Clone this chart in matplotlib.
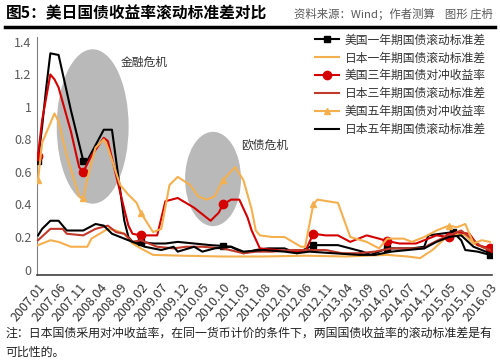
import matplotlib
matplotlib.use("Agg")
import matplotlib.pyplot as plt
from matplotlib.patches import Ellipse
from matplotlib.lines import Line2D

plt.rcParams['font.family'] = ['Noto Sans CJK SC', 'DejaVu Sans']

# month index counted from 2007.01
tick_months = list(range(0, 111, 5))
tick_labels = ['2007.01', '2007.06', '2007.11', '2008.04', '2008.09', '2009.02',
               '2009.07', '2009.12', '2010.05', '2010.10', '2011.03', '2011.08',
               '2012.01', '2012.06', '2012.11', '2013.04', '2013.09', '2014.02',
               '2014.07', '2014.12', '2015.05', '2015.10', '2016.03']

# 美国一年期国债滚动标准差
us1y_m = [0, 1, 2, 3, 5, 8, 11, 12, 16, 18, 21, 22, 23, 25, 28, 31, 34, 38, 42, 45, 47,
          50, 53, 56, 60, 63, 67, 70, 73, 76, 79, 81, 83, 85, 88, 91, 94, 95, 98, 101,
          103, 104, 107, 110]
us1y_v = [0.67, 0.88, 1.12, 1.33, 1.32, 0.98, 0.67, 0.67, 0.86, 0.86, 0.30, 0.20, 0.17,
          0.17, 0.16, 0.16, 0.17, 0.16, 0.15, 0.145, 0.14, 0.10, 0.12, 0.13, 0.13, 0.10,
          0.15, 0.15, 0.15, 0.13, 0.11, 0.09, 0.11, 0.13, 0.13, 0.13, 0.14, 0.21, 0.22,
          0.23, 0.18, 0.12, 0.11, 0.09]

# 日本一年期国债滚动标准差
jp1y_m = [0, 3, 5, 8, 12, 13, 17, 19, 21, 23, 25, 28, 35, 45, 55, 65, 75, 85, 90, 93,
          96, 99, 102, 104, 106, 110]
jp1y_v = [0.15, 0.18, 0.17, 0.14, 0.14, 0.19, 0.25, 0.24, 0.22, 0.16, 0.13, 0.09, 0.085,
          0.08, 0.08, 0.085, 0.08, 0.09, 0.08, 0.07, 0.12, 0.19, 0.22, 0.21, 0.16, 0.12]

# 美国三年期国债对冲收益率
us3y_m = [0, 1, 3, 4, 5, 8, 10, 11, 13, 16, 17, 19, 21, 22, 23, 25, 27, 29, 31, 34, 36,
          38, 41, 42, 44, 45, 47, 49, 51, 52, 54, 58, 62, 65, 67, 70, 73, 76, 80, 83,
          85, 88, 92, 95, 97, 100, 102, 105, 107, 110]
us3y_v = [0.70, 0.92, 1.20, 1.17, 1.12, 0.85, 0.63, 0.60, 0.70, 0.81, 0.79, 0.58, 0.37,
          0.27, 0.22, 0.21, 0.21, 0.21, 0.42, 0.44, 0.41, 0.38, 0.32, 0.30, 0.35, 0.40,
          0.43, 0.43, 0.32, 0.24, 0.13, 0.12, 0.11, 0.11, 0.22, 0.21, 0.21, 0.17, 0.21,
          0.19, 0.175, 0.16, 0.16, 0.19, 0.21, 0.20, 0.23, 0.22, 0.15, 0.13]

# 日本三年期国债滚动标准差
jp3y_m = [0, 3, 6, 7, 11, 14, 17, 19, 21, 23, 25, 29, 33, 36, 40, 45, 50, 53, 57, 62,
          66, 70, 74, 78, 82, 86, 90, 94, 95, 99, 103, 105, 108, 110]
jp3y_v = [0.18, 0.25, 0.25, 0.22, 0.21, 0.25, 0.27, 0.23, 0.22, 0.17, 0.18, 0.14, 0.13,
          0.14, 0.14, 0.13, 0.10, 0.11, 0.11, 0.12, 0.12, 0.12, 0.10, 0.10, 0.11, 0.13,
          0.13, 0.13, 0.15, 0.20, 0.24, 0.20, 0.14, 0.12]

# 美国五年期国债对冲收益率
us5y_m = [0, 1, 4, 5, 7, 10, 11, 12, 14, 16, 17, 20, 22, 24, 25, 28, 30, 32, 34, 37, 39,
          41, 43, 45, 48, 50, 52, 53, 54, 57, 60, 64, 65, 67, 68, 73, 76, 80, 83, 85,
          89, 91, 94, 97, 100, 102, 104, 106, 108, 110]
us5y_v = [0.55, 0.78, 0.96, 0.91, 0.70, 0.45, 0.44, 0.56, 0.75, 0.80, 0.75, 0.52, 0.46,
          0.41, 0.35, 0.23, 0.25, 0.52, 0.57, 0.52, 0.45, 0.43, 0.45, 0.55, 0.63, 0.55,
          0.37, 0.24, 0.21, 0.20, 0.20, 0.14, 0.14, 0.40, 0.43, 0.41, 0.20, 0.17, 0.13,
          0.19, 0.19, 0.17, 0.20, 0.24, 0.27, 0.26, 0.28, 0.16, 0.18, 0.17]

# 日本五年期国债滚动标准差
jp5y_m = [0, 1, 3, 5, 7, 11, 14, 16, 18, 21, 23, 26, 30, 33, 34, 38, 40, 43, 47, 50, 55,
          60, 63, 66, 72, 78, 82, 86, 90, 94, 97, 100, 103, 106, 110]
jp5y_v = [0.21, 0.25, 0.30, 0.30, 0.24, 0.24, 0.28, 0.27, 0.22, 0.19, 0.17, 0.14, 0.12,
          0.14, 0.11, 0.14, 0.11, 0.13, 0.14, 0.11, 0.12, 0.11, 0.10, 0.11, 0.10, 0.09,
          0.09, 0.11, 0.12, 0.13, 0.17, 0.20, 0.21, 0.14, 0.10]

marker_months_us1y = [0, 11, 25, 45, 67, 85, 101, 110]
marker_months_us3y = [0, 11, 25, 45, 67, 85, 100, 110]
marker_months_us5y = [0, 11, 25, 45, 67, 100]


def mark_idx(months, wanted):
    return [i for i, m in enumerate(months) if m in wanted]


fig = plt.figure(figsize=(5, 3.6), dpi=100)
ax = fig.add_axes([0.074, 0.236, 0.91, 0.661])

grey = '#b9b9b9'
ax.add_patch(Ellipse((13.3, 0.88), 17.5, 0.95, color=grey, zorder=1, lw=0))
ax.add_patch(Ellipse((42.6, 0.557), 13.6, 0.58, color=grey, zorder=1, lw=0))
ax.text(20, 1.277, '金融危机', fontsize=8.5, color='#333333', va='center')
ax.text(49.4, 0.766, '欧债危机', fontsize=8.5, color='#333333', va='center')

orange = '#f4b04f'
lw = 1.5
ax.plot(us1y_m, us1y_v, color='black', lw=lw, marker='s', ms=5,
        markevery=mark_idx(us1y_m, marker_months_us1y), label='美国一年期国债滚动标准差', zorder=3)
ax.plot(jp1y_m, jp1y_v, color=orange, lw=lw, label='日本一年期国债滚动标准差', zorder=3)
ax.plot(us3y_m, us3y_v, color='#d40000', lw=lw, marker='o', ms=6,
        markevery=mark_idx(us3y_m, marker_months_us3y), label='美国三年期国债对冲收益率', zorder=3)
ax.plot(jp3y_m, jp3y_v, color='#c0392b', lw=lw, label='日本三年期国债滚动标准差', zorder=3)
ax.plot(us5y_m, us5y_v, color=orange, lw=lw, marker='^', ms=5,
        markevery=mark_idx(us5y_m, marker_months_us5y), label='美国五年期国债对冲收益率', zorder=3)
ax.plot(jp5y_m, jp5y_v, color='black', lw=lw, label='日本五年期国债滚动标准差', zorder=3)

ax.set_xlim(-0.25, 110.5)
ax.set_ylim(-0.034, 1.43)
ax.set_yticks([0, 0.2, 0.4, 0.6, 0.8, 1, 1.2, 1.4])
ax.set_yticklabels(['0', '0.2', '0.4', '0.6', '0.8', '1', '1.2', '1.4'])
ax.set_xticks(tick_months)
ax.set_xticklabels(tick_labels, rotation=50, ha='right', rotation_mode='anchor')
ax.tick_params(axis='both', length=0, labelsize=9, colors='#595959', pad=4)
ax.tick_params(axis='x', labelsize=9, colors='#333333')
for s in ['top', 'right']:
    ax.spines[s].set_visible(False)
ax.spines['left'].set_color('#808080')
ax.spines['left'].set_linewidth(0.8)
ax.spines['bottom'].set_color('#404040')
ax.spines['bottom'].set_linewidth(1.2)

leg = ax.legend(loc='upper right', bbox_to_anchor=(1.01, 1.06), frameon=False,
                fontsize=8.5, handlelength=2.0, labelspacing=0.42, handletextpad=0.5)
for t in leg.get_texts():
    t.set_color('#333333')

fig.text(0.012, 0.963, '图5：美日国债收益率滚动标准差对比', fontsize=11.3,
         fontweight='bold', va='center')
fig.text(0.986, 0.960, '资料来源：Wind；作者测算    图形 庄枬', fontsize=8.2,
         color='#595959', ha='right', va='center')
fig.add_artist(Line2D([0.01, 0.99], [0.925, 0.925], color='black', lw=2.5))
fig.text(0.01, 0.075, '注：日本国债采用对冲收益率，在同一货币计价的条件下，两国国债收益率的滚动标准差是有',
         fontsize=8.6, color='#222222', va='center')
fig.text(0.01, 0.022, '可比性的。', fontsize=8.6, color='#222222', va='center')

fig.savefig('out.png', dpi=100)
